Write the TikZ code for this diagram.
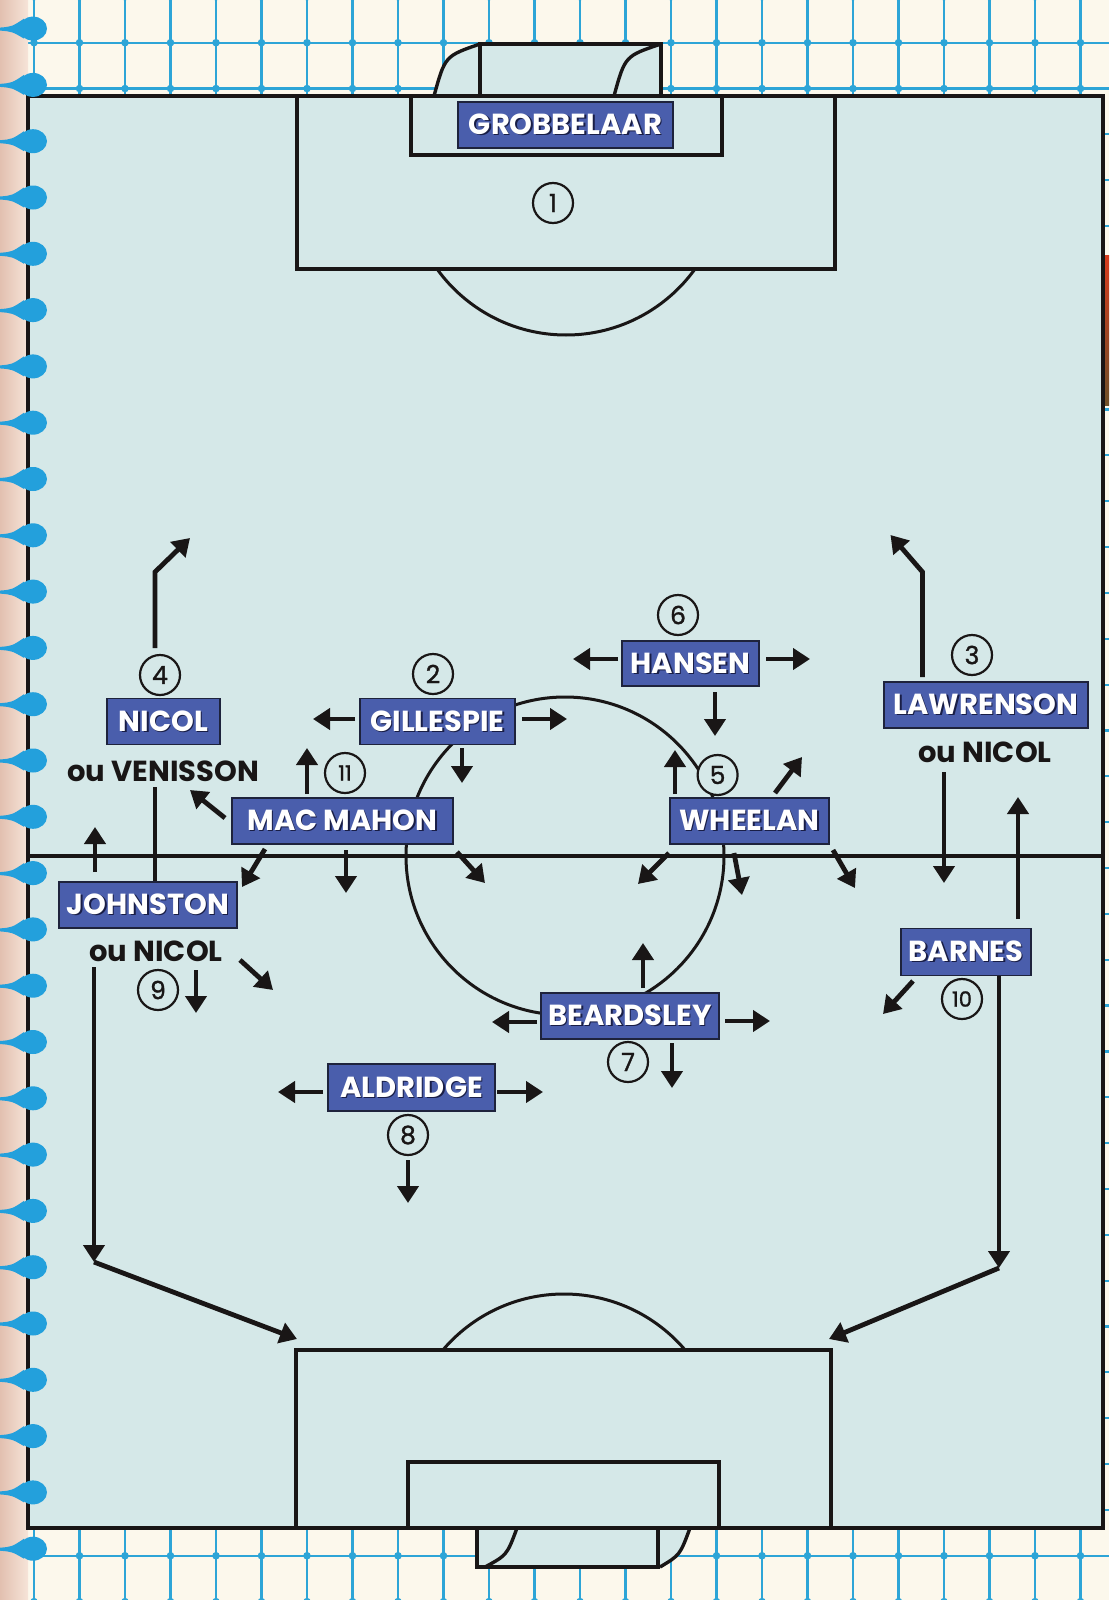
\documentclass[tikz,border=0pt]{standalone}
\usepackage{fontspec}
\setmainfont{Poppins}
\usetikzlibrary{arrows.meta}
\definecolor{page}{RGB}{252,248,236}
\definecolor{gridc}{RGB}{45,165,215}
\definecolor{spiral}{RGB}{35,160,220}
\definecolor{fieldc}{RGB}{213,232,232}
\definecolor{boxc}{RGB}{74,94,172}
\definecolor{boxline}{RGB}{30,35,60}
\definecolor{ink}{RGB}{25,22,22}
\definecolor{txtshadow}{RGB}{25,30,70}
\definecolor{stripL}{RGB}{226,192,176}
\definecolor{stripR}{RGB}{246,228,216}
\definecolor{redA}{RGB}{215,60,30}
\definecolor{redB}{RGB}{110,80,40}
\newcommand\shd[1]{\rlap{\kern1.4pt\raisebox{-1.4pt}{\textcolor{txtshadow}{#1}}}#1}
\begin{document}
\begin{tikzpicture}[x=1pt,y=-1pt,
  fieldline/.style={draw=ink, line width=3.4pt},
  player/.style={draw=boxline, line width=1.8pt, fill=boxc, text=white,
    font=\fontsize{29}{29}\selectfont\bfseries, minimum height=46pt, inner sep=0pt},
  num/.style={circle, draw=ink, line width=2.2pt, fill=fieldc, minimum size=40pt,
    inner sep=0pt, text=ink, font=\fontsize{25}{25}\selectfont\addfontfeature{FakeBold=1.2}},
  numtwo/.style={num, font=\fontsize{21}{21}\selectfont\addfontfeature{FakeBold=1.2}},
  alt/.style={text=ink, font=\fontsize{29}{29}\selectfont\bfseries, inner sep=0pt},
  mv/.style={draw=ink, line width=4.8pt, -{Triangle[length=17pt,width=21pt]}},
  plainline/.style={draw=ink, line width=4.6pt},
]
\useasboundingbox (0,0) rectangle (1109,1600);
% page and grid
\fill[page] (0,0) rectangle (1109,1600);
\foreach \k in {-1,...,34} {\draw[gridc, line width=2.2pt] (0,{42.7+45.85*\k}) -- (1109,{42.7+45.85*\k});}
\foreach \k in {-8,...,15} {\draw[gridc, line width=2.2pt] ({398+45.5*\k},0) -- ({398+45.5*\k},1600);}
\foreach \k in {-1,...,34} {\foreach \j in {-8,...,15} {\fill[gridc] ({398+45.5*\j},{42.7+45.85*\k}) circle[radius=3.8pt];}}
% left binding strip and right red edge
\shade[left color=stripL, right color=stripR] (0,0) rectangle (28,1600);
\shade[top color=redA, bottom color=redB] (1104,255) rectangle (1109,405);
% field
\fill[fieldc] (28,96) rectangle (1103,1528);
% top goal
\fill[fieldc] (434,96) .. controls (445,56) .. (480,44) -- (661,44) -- (661,96) -- cycle;
\draw[fieldline] (480,96) -- (480,44) -- (661,44) -- (661,96);
\draw[fieldline] (434,96) .. controls (445,56) .. (480,44);
\draw[fieldline] (614,96) .. controls (625,56) .. (661,44);
% bottom goal
\fill[fieldc] (477,1528) -- (477,1567) -- (660,1567) .. controls (680,1555) .. (690,1528) -- cycle;
\draw[fieldline] (477,1528) -- (477,1567) -- (660,1567);
\draw[fieldline] (658,1528) -- (658,1567);
\draw[fieldline] (517,1528) .. controls (507,1555) .. (485,1567);
\draw[fieldline] (690,1528) .. controls (680,1555) .. (660,1567);
% field lines
\draw[fieldline] (28,96) rectangle (1103,1528);
\draw[fieldline] (28,856) -- (1103,856);
\draw[fieldline, line width=3pt] (565,856) circle[radius=159];
\draw[fieldline] (297,96) rectangle (835,269);
\draw[fieldline] (411,96) rectangle (722,155);
\begin{scope}
\clip (0,269) rectangle (1109,400);
\draw[fieldline, line width=3pt] (566,176) circle[radius=159];
\end{scope}
\draw[fieldline] (296,1350) rectangle (831,1528);
\draw[fieldline] (408,1462) rectangle (719,1528);
\begin{scope}
\clip (0,1200) rectangle (1109,1350);
\draw[fieldline, line width=3pt] (564,1453) circle[radius=159];
\end{scope}

% ---------- coordinates of movement arrows ----------
\coordinate (gL0) at (355,719); \coordinate (gL1) at (313,719);
\coordinate (gR0) at (522,719); \coordinate (gR1) at (567,719);
\coordinate (gD0) at (462,748); \coordinate (gD1) at (462,783);
\coordinate (hL0) at (618,659); \coordinate (hL1) at (573,659);
\coordinate (hR0) at (766,659); \coordinate (hR1) at (810,659);
\coordinate (hD0) at (715,692); \coordinate (hD1) at (715,736);
\coordinate (wU0) at (675,794); \coordinate (wU1) at (675,750);
\coordinate (wUR0) at (775,793); \coordinate (wUR1) at (802,757);
\coordinate (wDL0) at (669,853); \coordinate (wDL1) at (638,884);
\coordinate (wD0) at (734,853); \coordinate (wD1) at (742,895);
\coordinate (wDR0) at (833,850); \coordinate (wDR1) at (855,888);
\coordinate (mU0) at (307,794); \coordinate (mU1) at (307,748);
\coordinate (mUL0) at (225,818); \coordinate (mUL1) at (190,790);
\coordinate (mDL0) at (265,849); \coordinate (mDL1) at (242,887);
\coordinate (mD0) at (346,850); \coordinate (mD1) at (346,893);
\coordinate (mDR0) at (457,852); \coordinate (mDR1) at (485,883);
\coordinate (jU0) at (95,872); \coordinate (jU1) at (95,827);
\coordinate (jD0) at (196,970); \coordinate (jD1) at (196,1013);
\coordinate (jDR0) at (240,960); \coordinate (jDR1) at (273,990);
\coordinate (jl0) at (94,967); \coordinate (jl1) at (94,1262); \coordinate (jl2) at (297,1339);
\coordinate (n0) at (155,648); \coordinate (n1) at (155,572); \coordinate (n2) at (190,538);
\coordinate (nv0) at (155,787); \coordinate (nv1) at (155,882);
\coordinate (lU0) at (922.5,677); \coordinate (lU1) at (922.5,572); \coordinate (lU2) at (890.5,535);
\coordinate (lD0) at (944,772); \coordinate (lD1) at (944,883);
\coordinate (bU0) at (1018,919); \coordinate (bU1) at (1018,797);
\coordinate (bDL0) at (913,981); \coordinate (bDL1) at (883,1014);
\coordinate (bl0) at (999,976); \coordinate (bl1) at (999,1268); \coordinate (bl2) at (829,1339);
\coordinate (eL0) at (537,1022); \coordinate (eL1) at (492,1022);
\coordinate (eR0) at (725,1021); \coordinate (eR1) at (770,1021);
\coordinate (eU0) at (643,988); \coordinate (eU1) at (643,943);
\coordinate (eD0) at (672,1043); \coordinate (eD1) at (672,1088);
\coordinate (aL0) at (323,1092); \coordinate (aL1) at (278,1092);
\coordinate (aR0) at (497,1092); \coordinate (aR1) at (543,1092);
\coordinate (aD0) at (408,1160); \coordinate (aD1) at (408,1203);

% arrows
\foreach \a in {gL,gR,gD,hL,hR,hD,wU,wUR,wDL,wD,wDR,mU,mUL,mDL,mD,mDR,jU,jD,jDR,lD,bU,bDL,eL,eR,eU,eD,aL,aR,aD}
  {\draw[mv] (\a0) -- (\a1);}
\draw[mv] (jl0) -- (jl1);
\draw[mv] (jl1) -- (jl2);
\draw[mv] (bl0) -- (bl1);
\draw[mv] (bl1) -- (bl2);
\draw[mv] (n0) -- (n1) -- (n2);
\draw[mv] (lU0) -- (lU1) -- (lU2);
\draw[plainline] (nv0) -- (nv1);

% number circles
\node[num] (c1) at (553,203) {1};
\node[num] (c2) at (433,674) {2};
\node[num] (c3) at (972,655) {3};
\node[num] (c4) at (160,675) {4};
\node[num] (c5) at (717.6,775) {5};
\node[num] (c6) at (678,615) {6};
\node[num] (c7) at (628,1062) {7};
\node[num] (c8) at (408,1135) {8};
\node[num] (c9) at (158,990) {9};
\node[numtwo] (c10) at (962,999) {10};
\node[numtwo] (c11) at (345,773) {11};

% player boxes
\node[player, minimum width=215pt] (grob) at (565.5,125) {\shd{GROBBELAAR}};
\node[player, minimum width=113pt] (nicol) at (163.5,721.5) {\shd{NICOL}};
\node[player, minimum width=155pt] (gil) at (437.5,721.5) {\shd{GILLESPIE}};
\node[player, minimum width=137pt, minimum height=45pt] (hansen) at (690.5,663.5) {\shd{HANSEN}};
\node[player, minimum width=204pt] (lawr) at (986,705) {\shd{LAWRENSON}};
\node[player, minimum width=221pt] (mac) at (342.5,821) {\shd{MAC MAHON}};
\node[player, minimum width=159pt] (whee) at (749.5,821) {\shd{WHEELAN}};
\node[player, minimum width=178pt] (john) at (148,905) {\shd{JOHNSTON}};
\node[player, minimum width=130pt, minimum height=47pt] (barnes) at (966,952) {\shd{BARNES}};
\node[player, minimum width=178pt] (beard) at (630,1016) {\shd{BEARDSLEY}};
\node[player, minimum width=167pt, minimum height=47pt] (aldr) at (411.5,1087.5) {\shd{ALDRIDGE}};

% alternative names
\node[alt] (ouven) at (163,771) {ou VENISSON};
\node[alt] (ounicA) at (156,951) {ou NICOL};
\node[alt] (ounicB) at (985,752) {ou NICOL};

% spiral binding
\foreach \k in {0,...,27} {
  \pgfmathsetmacro\yy{28.6+56.3*\k}
  \fill[spiral] (0,\yy-1) .. controls (12,\yy-2) .. (24,\yy-10) -- (24,\yy+10) .. controls (12,\yy+3) .. (0,\yy+2) -- cycle;
  \fill[spiral] (33,\yy) ellipse [x radius=14, y radius=12];
}
\end{tikzpicture}
\end{document}
